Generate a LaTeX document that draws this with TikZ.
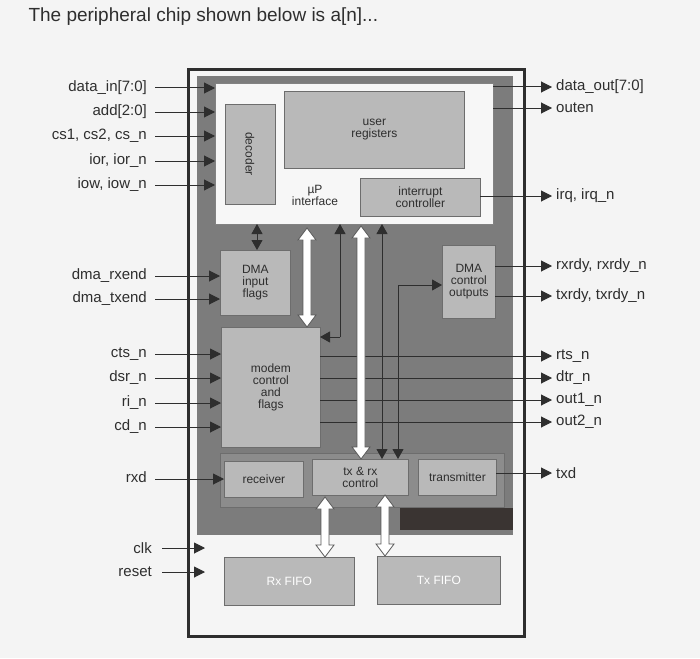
\documentclass[tikz,border=0pt]{standalone}
\usepackage{fontspec}
\setmainfont{Liberation Sans}
\usetikzlibrary{arrows.meta}
\definecolor{bg}{HTML}{F4F4F4}
\definecolor{dk}{HTML}{7C7C7C}
\definecolor{blk}{HTML}{B9B9B9}
\definecolor{band}{HTML}{8C8C8C}
\definecolor{ink}{HTML}{2E2E2E}
\definecolor{bar}{HTML}{3A3432}
\tikzset{
  blockbox/.style={draw=ink!70, line width=0.8pt, fill=blk, align=center, font=\fontsize{12}{12}\selectfont, text=ink, inner sep=1pt},
  lab/.style={font=\fontsize{15}{15}\selectfont, text=ink, inner sep=0pt},
  sig/.style={draw=ink, line width=1pt, -{Triangle[length=11pt,width=11pt]}},
  bus/.style={draw=ink, line width=1pt},
  tip/.tip={Triangle[length=10pt,width=11pt]},
}
\newcommand{\hollowarrow}[3]{% x, ytop, ybottom
  \filldraw[fill=white,draw=ink!80,line width=0.8pt]
   (#1,#2) -- (#1+9,#2+12) -- (#1+4,#2+12) -- (#1+4,#3-12) -- (#1+9,#3-12) -- (#1,#3)
   -- (#1-9,#3-12) -- (#1-4,#3-12) -- (#1-4,#2+12) -- (#1-9,#2+12) -- cycle;}
\begin{document}
\begin{tikzpicture}[x=1pt,y=-1pt]
\useasboundingbox (0,0) rectangle (700,658);
\fill[bg] (0,0) rectangle (700,658);
\node[anchor=west, font=\fontsize{19}{19}\selectfont, text=ink] (title) at (25,17) {The peripheral chip shown below is a[n]...};
% chip
\draw[line width=3pt, draw=ink, fill=white!96!black] (188,70) rectangle (524,636);
\fill[dk] (197,76) rectangle (513,535);
\fill[white!97!black, draw=ink!60] (215,83) rectangle (493,224);
\node[blockbox, minimum width=100pt, minimum height=50pt, rotate=-90] (dec) at (250,154) {decoder};
\node[blockbox, minimum width=180pt, minimum height=77pt, anchor=north west] (ureg) at (284,91) {user\\registers};
\node[blockbox, minimum width=120pt, minimum height=38pt, anchor=north west] (intc) at (360,178) {interrupt\\controller};
\node[font=\fontsize{12}{12}\selectfont, text=ink, align=center] (up) at (315,195) {µP\\interface};
\node[blockbox, minimum width=70pt, minimum height=65pt, anchor=north west] (dmai) at (220,250) {DMA\\input\\flags};
\node[blockbox, minimum width=53pt, minimum height=73pt, anchor=north west] (dmac) at (442,245) {DMA\\control\\outputs};
\node[blockbox, minimum width=99pt, minimum height=120pt, anchor=north west] (modem) at (221,327) {modem\\control\\and\\flags};
\draw[fill=band, draw=ink!70] (220,453) rectangle (504,507);
\node[blockbox, minimum width=79pt, minimum height=36pt, anchor=north west] (rcv) at (224,461) {receiver};
\node[blockbox, minimum width=96pt, minimum height=36pt, anchor=north west] (txrx) at (312,459) {tx \& rx\\control};
\node[blockbox, minimum width=78pt, minimum height=36pt, anchor=north west] (xmt) at (418,459) {transmitter};
\fill[bar] (400,508) rectangle (513,530);
\node[blockbox, minimum width=130pt, minimum height=48pt, anchor=north west, text=white] (rxf) at (224,557) {Rx FIFO};
\node[blockbox, minimum width=123pt, minimum height=48pt, anchor=north west, text=white] (txf) at (377,556) {Tx FIFO};
% inputs
\foreach \y/\t in {88/{data\_in[7:0]},112/{add[2:0]},136/{cs1, cs2, cs\_n},161/{ior, ior\_n},185/{iow, iow\_n}}{
  \node[lab, anchor=east] at (147,\y) {\t};
  \draw[sig] (155,\y) -- (215,\y);}
\foreach \y/\t in {276/dma\_rxend,299/dma\_txend}{
  \node[lab, anchor=east] at (147,\y) {\t};
  \draw[sig] (155,\y) -- (220,\y);}
\foreach \y/\t in {354/cts\_n,378/dsr\_n,403/ri\_n,427/cd\_n}{
  \node[lab, anchor=east] at (147,\y) {\t};
  \draw[sig] (155,\y) -- (221,\y);}
\node[lab, anchor=east] at (147,477) {rxd};
\draw[sig] (155,479) -- (224,479);
\foreach \y/\t in {548/clk,572/reset}{
  \node[lab, anchor=east] at (152,\y) {\t};
  \draw[sig] (162,\y) -- (205,\y);}
% outputs
\foreach \y/\t/\xs in {87/{data\_out[7:0]}/493,108/outen/493,196/{irq, irq\_n}/480,266/{rxrdy, rxrdy\_n}/495,296/{txrdy, txrdy\_n}/495,356/rts\_n/320,378/dtr\_n/320,400/out1\_n/320,422/out2\_n/320,473/txd/496}{
  \draw[sig] (\xs,\y) -- (552,\y);
  \node[lab, anchor=west] at (556,\y) {\t};}
% internal connections
\draw[bus, tip-tip] (257,224) -- (257,250);
\draw[bus, -tip] (340,337) -- (340,224);
\draw[bus, -tip] (340,337) -- (320,337);
\draw[bus, tip-tip] (382,224) -- (382,459);
\draw[bus, -tip] (398,285) -- (442,285);
\draw[bus, -tip] (398,285) -- (398,459);
\hollowarrow{307}{228}{327}
\hollowarrow{361}{226}{459}
\hollowarrow{325}{497}{557}
\hollowarrow{385}{495}{556}
\end{tikzpicture}
\end{document}
